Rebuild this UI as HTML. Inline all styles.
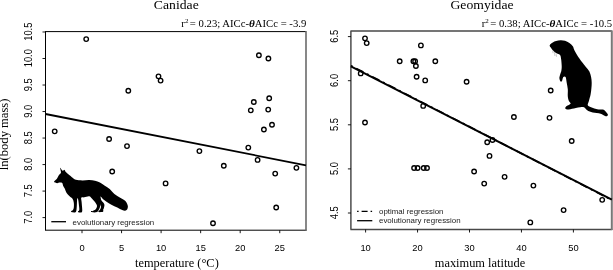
<!DOCTYPE html>
<html><head><meta charset="utf-8"><title>Figure</title>
<style>
html,body{margin:0;padding:0;background:#fff}
svg{display:block}
text{fill:#000}
.tk{font-family:"Liberation Sans",Arial,sans-serif;font-size:9.35px}
.lg{font-family:"Liberation Sans",Arial,sans-serif;font-size:7.9px;fill:#222}
.ti{font-family:"Liberation Serif","Times New Roman",serif;font-size:13.7px}
.an{font-family:"Liberation Serif","Times New Roman",serif;font-size:10.7px}
.ax{font-family:"Liberation Serif","Times New Roman",serif;font-size:12.4px}
</style></head>
<body>
<svg width="613" height="270" viewBox="0 0 613 270">
<rect width="613" height="270" fill="#fff"/>
<path d="M45.5 31.6H306M45.5 31.1V230.2M45.0 230.2H306.5" stroke="#000" stroke-width="1" fill="none"/>
<path d="M306 31.1V230.7" stroke="#6a6a6a" stroke-width="1.6" fill="none"/>
<path d="M82.0 230.2v3" stroke="#000" stroke-width="0.9"/>
<text transform="translate(82.0 251.1) scale(1 1.06)" text-anchor="middle" class="tk">0</text>
<path d="M121.55 230.2v3" stroke="#000" stroke-width="0.9"/>
<text transform="translate(121.55 251.1) scale(1 1.06)" text-anchor="middle" class="tk">5</text>
<path d="M161.1 230.2v3" stroke="#000" stroke-width="0.9"/>
<text transform="translate(161.1 251.1) scale(1 1.06)" text-anchor="middle" class="tk">10</text>
<path d="M200.65 230.2v3" stroke="#000" stroke-width="0.9"/>
<text transform="translate(200.65 251.1) scale(1 1.06)" text-anchor="middle" class="tk">15</text>
<path d="M240.2 230.2v3" stroke="#000" stroke-width="0.9"/>
<text transform="translate(240.2 251.1) scale(1 1.06)" text-anchor="middle" class="tk">20</text>
<path d="M279.75 230.2v3" stroke="#000" stroke-width="0.9"/>
<text transform="translate(279.75 251.1) scale(1 1.06)" text-anchor="middle" class="tk">25</text>
<path d="M45.5 217.6h-3" stroke="#000" stroke-width="0.9"/>
<text transform="translate(32.1 217.29999999999998) rotate(-90) scale(1 1.1)" text-anchor="middle" class="tk">7.0</text>
<path d="M45.5 191.08499999999998h-3" stroke="#000" stroke-width="0.9"/>
<text transform="translate(32.1 190.78499999999997) rotate(-90) scale(1 1.1)" text-anchor="middle" class="tk">7.5</text>
<path d="M45.5 164.57h-3" stroke="#000" stroke-width="0.9"/>
<text transform="translate(32.1 164.26999999999998) rotate(-90) scale(1 1.1)" text-anchor="middle" class="tk">8.0</text>
<path d="M45.5 138.055h-3" stroke="#000" stroke-width="0.9"/>
<text transform="translate(32.1 137.755) rotate(-90) scale(1 1.1)" text-anchor="middle" class="tk">8.5</text>
<path d="M45.5 111.53999999999999h-3" stroke="#000" stroke-width="0.9"/>
<text transform="translate(32.1 111.24) rotate(-90) scale(1 1.1)" text-anchor="middle" class="tk">9.0</text>
<path d="M45.5 85.025h-3" stroke="#000" stroke-width="0.9"/>
<text transform="translate(32.1 84.72500000000001) rotate(-90) scale(1 1.1)" text-anchor="middle" class="tk">9.5</text>
<path d="M45.5 58.50999999999999h-3" stroke="#000" stroke-width="0.9"/>
<text transform="translate(32.1 58.209999999999994) rotate(-90) scale(1 1.1)" text-anchor="middle" class="tk">10.0</text>
<path d="M45.5 31.994999999999976h-3" stroke="#000" stroke-width="0.9"/>
<text transform="translate(32.1 31.694999999999975) rotate(-90) scale(1 1.1)" text-anchor="middle" class="tk">10.5</text>
<circle cx="86.2" cy="39.1" r="2.25" fill="none" stroke="#000" stroke-width="1.35"/>
<circle cx="258.9" cy="55.2" r="2.25" fill="none" stroke="#000" stroke-width="1.35"/>
<circle cx="268.4" cy="58.5" r="2.25" fill="none" stroke="#000" stroke-width="1.35"/>
<circle cx="128.3" cy="90.7" r="2.25" fill="none" stroke="#000" stroke-width="1.35"/>
<circle cx="54.7" cy="131.3" r="2.25" fill="none" stroke="#000" stroke-width="1.35"/>
<circle cx="158.5" cy="76.3" r="2.25" fill="none" stroke="#000" stroke-width="1.35"/>
<circle cx="160.6" cy="80.6" r="2.25" fill="none" stroke="#000" stroke-width="1.35"/>
<circle cx="269.2" cy="98.2" r="2.25" fill="none" stroke="#000" stroke-width="1.35"/>
<circle cx="253.8" cy="102" r="2.25" fill="none" stroke="#000" stroke-width="1.35"/>
<circle cx="250.8" cy="110.3" r="2.25" fill="none" stroke="#000" stroke-width="1.35"/>
<circle cx="268.2" cy="109.6" r="2.25" fill="none" stroke="#000" stroke-width="1.35"/>
<circle cx="272" cy="124.7" r="2.25" fill="none" stroke="#000" stroke-width="1.35"/>
<circle cx="263.9" cy="129.5" r="2.25" fill="none" stroke="#000" stroke-width="1.35"/>
<circle cx="199.4" cy="151.1" r="2.25" fill="none" stroke="#000" stroke-width="1.35"/>
<circle cx="248.3" cy="147.6" r="2.25" fill="none" stroke="#000" stroke-width="1.35"/>
<circle cx="257.6" cy="159.9" r="2.25" fill="none" stroke="#000" stroke-width="1.35"/>
<circle cx="223.8" cy="165.7" r="2.25" fill="none" stroke="#000" stroke-width="1.35"/>
<circle cx="275.2" cy="173.6" r="2.25" fill="none" stroke="#000" stroke-width="1.35"/>
<circle cx="296.4" cy="167.8" r="2.25" fill="none" stroke="#000" stroke-width="1.35"/>
<circle cx="165.6" cy="183.4" r="2.25" fill="none" stroke="#000" stroke-width="1.35"/>
<circle cx="213" cy="223.2" r="2.25" fill="none" stroke="#000" stroke-width="1.35"/>
<circle cx="276.2" cy="207.5" r="2.25" fill="none" stroke="#000" stroke-width="1.35"/>
<circle cx="109.1" cy="139" r="2.25" fill="none" stroke="#000" stroke-width="1.35"/>
<circle cx="127" cy="146.1" r="2.25" fill="none" stroke="#000" stroke-width="1.35"/>
<circle cx="112.2" cy="171.5" r="2.25" fill="none" stroke="#000" stroke-width="1.35"/>
<path d="M45.5 114L306 165.3" stroke="#000" stroke-width="1.8" fill="none"/>
<text transform="translate(176.3 9.4) scale(1 0.93)" text-anchor="middle" class="ti">Canidae</text>
<text x="306.3" y="27.2" text-anchor="end" class="an">r<tspan dy="-4" font-size="7">2</tspan><tspan dy="4" dx="-1.2"> = 0.23; AICc-</tspan><tspan font-weight="bold" font-style="italic" font-size="11.2">θ</tspan>AICc = -3.9</text>
<text transform="translate(176.9 267.4) scale(1 1.04)" text-anchor="middle" class="ax">temperature (°C)</text>
<text transform="translate(8.3 134.4) rotate(-90) scale(1.015 1.04)" text-anchor="middle" class="ax">ln(body mass)</text>
<path d="M51.3 221.7H66" stroke="#000" stroke-width="1.3"/><text x="72.6" y="224.6" class="lg">evolutionary regression</text>
<path d="M54.10 181.40C54.35 180.75 56.12 179.72 56.90 178.70C57.68 177.68 58.12 176.32 58.80 175.30C59.48 174.28 60.78 173.87 61.00 172.60C61.22 171.33 59.82 168.02 60.10 167.70C60.38 167.38 61.97 170.33 62.70 170.70C63.43 171.07 63.93 169.63 64.50 169.90C65.07 170.17 65.25 171.40 66.10 172.30C66.95 173.20 68.37 174.27 69.60 175.30C70.83 176.33 72.45 177.77 73.50 178.50C74.55 179.23 74.43 179.38 75.90 179.70C77.37 180.02 80.08 180.33 82.30 180.40C84.52 180.47 87.08 180.03 89.20 180.10C91.32 180.17 93.22 180.38 95.00 180.80C96.78 181.22 98.27 181.78 99.90 182.60C101.53 183.42 103.17 184.63 104.80 185.70C106.43 186.77 108.10 187.62 109.70 189.00C111.30 190.38 112.65 192.53 114.40 194.00C116.15 195.47 118.42 196.67 120.20 197.80C121.98 198.93 123.95 199.82 125.10 200.80C126.25 201.78 126.63 202.73 127.10 203.70C127.57 204.67 127.90 205.62 127.90 206.60C127.90 207.58 127.57 208.92 127.10 209.60C126.63 210.28 125.92 210.62 125.10 210.70C124.28 210.78 123.50 210.62 122.20 210.10C120.90 209.58 119.10 208.50 117.30 207.60C115.50 206.70 113.20 205.68 111.40 204.70C109.60 203.72 107.93 202.67 106.50 201.70C105.07 200.73 103.80 199.75 102.80 198.90C101.80 198.05 100.85 196.42 100.50 196.60C100.15 196.78 100.70 198.77 100.70 200.00C100.70 201.23 100.60 202.90 100.50 204.00C100.40 205.10 100.32 205.77 100.10 206.60C99.88 207.43 99.72 208.10 99.20 209.00C98.68 209.90 98.10 211.45 97.00 212.00C95.90 212.55 93.42 212.42 92.60 212.30C91.78 212.18 91.62 211.77 92.10 211.30C92.58 210.83 94.68 210.37 95.50 209.50C96.32 208.63 97.00 207.23 97.00 206.10C97.00 204.97 96.32 203.92 95.50 202.70C94.68 201.48 93.15 199.87 92.10 198.80C91.05 197.73 90.50 196.55 89.20 196.30C87.90 196.05 85.62 197.05 84.30 197.30C82.98 197.55 81.75 197.07 81.30 197.80C80.85 198.53 81.47 200.07 81.60 201.70C81.73 203.33 82.03 205.88 82.10 207.60C82.17 209.32 82.53 211.18 82.00 212.00C81.47 212.82 79.58 212.58 78.90 212.50C78.22 212.42 77.85 211.87 77.90 211.50C77.95 211.13 78.98 210.95 79.20 210.30C79.42 209.65 79.33 209.20 79.20 207.60C79.07 206.00 78.65 202.25 78.40 200.70C78.15 199.15 77.92 198.47 77.70 198.30C77.48 198.13 77.27 198.15 77.10 199.70C76.93 201.25 76.92 205.55 76.70 207.60C76.48 209.65 76.58 211.22 75.80 212.00C75.02 212.78 72.80 212.42 72.00 212.30C71.20 212.18 70.85 211.68 71.00 211.30C71.15 210.92 72.43 210.62 72.90 210.00C73.37 209.38 73.65 208.82 73.80 207.60C73.95 206.38 74.02 204.17 73.80 202.70C73.58 201.23 73.20 199.87 72.50 198.80C71.80 197.73 70.58 197.28 69.60 196.30C68.62 195.32 67.42 194.20 66.60 192.90C65.78 191.60 65.27 189.65 64.70 188.50C64.13 187.35 63.62 186.90 63.20 186.00C62.78 185.10 62.77 183.67 62.20 183.10C61.63 182.53 60.62 182.57 59.80 182.60C58.98 182.63 58.03 183.30 57.30 183.30C56.57 183.30 55.93 182.92 55.40 182.60C54.87 182.28 53.85 182.05 54.10 181.40Z" fill="#000"/>
<path d="M99.80 196.50C100.22 196.60 100.75 199.32 101.50 200.60C102.25 201.88 103.90 202.97 104.30 204.20C104.70 205.43 104.08 207.10 103.90 208.00C103.72 208.90 103.35 208.97 103.20 209.60C103.05 210.23 103.78 211.38 103.00 211.80C102.22 212.22 99.18 212.23 98.50 212.10C97.82 211.97 98.58 211.52 98.90 211.00C99.22 210.48 100.05 209.70 100.40 209.00C100.75 208.30 101.03 207.55 101.00 206.80C100.97 206.05 100.53 205.63 100.20 204.50C99.87 203.37 99.07 201.33 99.00 200.00C98.93 198.67 99.38 196.40 99.80 196.50Z" fill="#000"/>
<path d="M350.9 30.9H611.8M350.9 30.4V229.5M350.4 229.5H612.3" stroke="#484848" stroke-width="1.45" fill="none"/>
<path d="M611.8 30.4V230.0" stroke="#787878" stroke-width="2.0" fill="none"/>
<path d="M365.6 229.5v3" stroke="#000" stroke-width="0.9"/>
<text transform="translate(365.6 251.1) scale(1 1.06)" text-anchor="middle" class="tk">10</text>
<path d="M417.55 229.5v3" stroke="#000" stroke-width="0.9"/>
<text transform="translate(417.55 251.1) scale(1 1.06)" text-anchor="middle" class="tk">20</text>
<path d="M469.5 229.5v3" stroke="#000" stroke-width="0.9"/>
<text transform="translate(469.5 251.1) scale(1 1.06)" text-anchor="middle" class="tk">30</text>
<path d="M521.45 229.5v3" stroke="#000" stroke-width="0.9"/>
<text transform="translate(521.45 251.1) scale(1 1.06)" text-anchor="middle" class="tk">40</text>
<path d="M573.4000000000001 229.5v3" stroke="#000" stroke-width="0.9"/>
<text transform="translate(573.4000000000001 251.1) scale(1 1.06)" text-anchor="middle" class="tk">50</text>
<path d="M350.9 213.0h-3" stroke="#000" stroke-width="0.9"/>
<text transform="translate(337.5 212.7) rotate(-90) scale(1 1.1)" text-anchor="middle" class="tk">4.5</text>
<path d="M350.9 168.9h-3" stroke="#000" stroke-width="0.9"/>
<text transform="translate(337.5 168.6) rotate(-90) scale(1 1.1)" text-anchor="middle" class="tk">5.0</text>
<path d="M350.9 124.8h-3" stroke="#000" stroke-width="0.9"/>
<text transform="translate(337.5 124.5) rotate(-90) scale(1 1.1)" text-anchor="middle" class="tk">5.5</text>
<path d="M350.9 80.69999999999999h-3" stroke="#000" stroke-width="0.9"/>
<text transform="translate(337.5 80.39999999999999) rotate(-90) scale(1 1.1)" text-anchor="middle" class="tk">6.0</text>
<path d="M350.9 36.599999999999994h-3" stroke="#000" stroke-width="0.9"/>
<text transform="translate(337.5 36.3) rotate(-90) scale(1 1.1)" text-anchor="middle" class="tk">6.5</text>
<circle cx="365" cy="38.3" r="2.25" fill="none" stroke="#000" stroke-width="1.35"/>
<circle cx="366.7" cy="43.1" r="2.25" fill="none" stroke="#000" stroke-width="1.35"/>
<circle cx="420.9" cy="45.4" r="2.25" fill="none" stroke="#000" stroke-width="1.35"/>
<circle cx="399.7" cy="61.2" r="2.25" fill="none" stroke="#000" stroke-width="1.35"/>
<circle cx="413.4" cy="61.2" r="2.25" fill="none" stroke="#000" stroke-width="1.35"/>
<circle cx="415.1" cy="61.2" r="2.25" fill="none" stroke="#000" stroke-width="1.35"/>
<circle cx="415.9" cy="66" r="2.25" fill="none" stroke="#000" stroke-width="1.35"/>
<circle cx="435.3" cy="61.2" r="2.25" fill="none" stroke="#000" stroke-width="1.35"/>
<circle cx="416.6" cy="76.7" r="2.25" fill="none" stroke="#000" stroke-width="1.35"/>
<circle cx="425.2" cy="80.4" r="2.25" fill="none" stroke="#000" stroke-width="1.35"/>
<circle cx="360.7" cy="73.4" r="2.25" fill="none" stroke="#000" stroke-width="1.35"/>
<circle cx="423.2" cy="105.9" r="2.25" fill="none" stroke="#000" stroke-width="1.35"/>
<circle cx="365" cy="122.5" r="2.25" fill="none" stroke="#000" stroke-width="1.35"/>
<circle cx="414.1" cy="168" r="2.25" fill="none" stroke="#000" stroke-width="1.35"/>
<circle cx="417.6" cy="168" r="2.25" fill="none" stroke="#000" stroke-width="1.35"/>
<circle cx="423.7" cy="168" r="2.25" fill="none" stroke="#000" stroke-width="1.35"/>
<circle cx="427" cy="168" r="2.25" fill="none" stroke="#000" stroke-width="1.35"/>
<circle cx="466.6" cy="81.7" r="2.25" fill="none" stroke="#000" stroke-width="1.35"/>
<circle cx="550.7" cy="90.5" r="2.25" fill="none" stroke="#000" stroke-width="1.35"/>
<circle cx="513.9" cy="117" r="2.25" fill="none" stroke="#000" stroke-width="1.35"/>
<circle cx="549.5" cy="117.8" r="2.25" fill="none" stroke="#000" stroke-width="1.35"/>
<circle cx="571.7" cy="141" r="2.25" fill="none" stroke="#000" stroke-width="1.35"/>
<circle cx="487.2" cy="142.2" r="2.25" fill="none" stroke="#000" stroke-width="1.35"/>
<circle cx="492.5" cy="140" r="2.25" fill="none" stroke="#000" stroke-width="1.35"/>
<circle cx="489.5" cy="155.9" r="2.25" fill="none" stroke="#000" stroke-width="1.35"/>
<circle cx="474.1" cy="171.5" r="2.25" fill="none" stroke="#000" stroke-width="1.35"/>
<circle cx="504.6" cy="176.8" r="2.25" fill="none" stroke="#000" stroke-width="1.35"/>
<circle cx="484.2" cy="183.6" r="2.25" fill="none" stroke="#000" stroke-width="1.35"/>
<circle cx="533.4" cy="185.6" r="2.25" fill="none" stroke="#000" stroke-width="1.35"/>
<circle cx="602.2" cy="199.8" r="2.25" fill="none" stroke="#000" stroke-width="1.35"/>
<circle cx="563.6" cy="210.1" r="2.25" fill="none" stroke="#000" stroke-width="1.35"/>
<circle cx="530.3" cy="222.4" r="2.25" fill="none" stroke="#000" stroke-width="1.35"/>
<path d="M350.9 66.3L611.8 199.6" stroke="#000" stroke-width="2.0" fill="none"/><path d="M350.9 65.6L611.8 200.1" stroke="#000" stroke-width="1.6" stroke-dasharray="2 4 8 4" fill="none"/>
<text transform="translate(482 9.4) scale(1 0.93)" text-anchor="middle" class="ti">Geomyidae</text>
<text x="612.0999999999999" y="27.2" text-anchor="end" class="an">r<tspan dy="-4" font-size="7">2</tspan><tspan dy="4" dx="-1.2"> = 0.38; AICc-</tspan><tspan font-weight="bold" font-style="italic" font-size="11.2">θ</tspan>AICc = -10.5</text>
<text transform="translate(480 267.4) scale(1 1.04)" text-anchor="middle" class="ax">maximum latitude</text>
<path d="M357.1 211.4H372.3" stroke="#000" stroke-width="1.3" stroke-dasharray="1.5 3 6 3"/><text x="379" y="213.8" class="lg">optimal regression</text><path d="M357.1 220.7H372.3" stroke="#000" stroke-width="1.3"/><text x="379" y="223.3" class="lg">evolutionary regression</text>
<path d="M549.70 45.20C549.98 44.27 551.73 43.08 552.80 42.40C553.87 41.72 554.80 41.47 556.10 41.10C557.40 40.73 559.12 40.25 560.60 40.20C562.08 40.15 563.53 40.33 565.00 40.80C566.47 41.27 568.10 42.08 569.40 43.00C570.70 43.92 571.97 45.10 572.80 46.30C573.63 47.50 573.48 48.43 574.40 50.20C575.32 51.97 576.90 54.77 578.30 56.90C579.70 59.03 581.50 61.28 582.80 63.00C584.10 64.72 585.00 65.77 586.10 67.20C587.20 68.63 588.57 69.95 589.40 71.60C590.23 73.25 590.72 75.25 591.10 77.10C591.48 78.95 591.65 80.85 591.70 82.70C591.75 84.55 591.58 86.23 591.40 88.20C591.22 90.17 591.02 92.38 590.60 94.50C590.18 96.62 589.37 99.10 588.90 100.90C588.43 102.70 587.33 104.18 587.80 105.30C588.27 106.42 590.13 106.95 591.70 107.60C593.27 108.25 595.35 108.87 597.20 109.20C599.05 109.53 601.40 109.23 602.80 109.60C604.20 109.97 604.77 110.63 605.60 111.40C606.43 112.17 607.53 113.45 607.80 114.20C608.07 114.95 607.67 115.62 607.20 115.90C606.73 116.18 606.10 116.27 605.00 115.90C603.90 115.53 602.63 114.25 600.60 113.70C598.57 113.15 595.03 113.17 592.80 112.60C590.57 112.03 588.60 111.13 587.20 110.30C585.80 109.47 585.32 108.15 584.40 107.60C583.48 107.05 583.45 106.87 581.70 107.00C579.95 107.13 576.32 107.97 573.90 108.40C571.48 108.83 568.65 109.65 567.20 109.60C565.75 109.55 565.28 108.72 565.20 108.10C565.12 107.48 565.80 106.63 566.70 105.90C567.60 105.17 570.23 104.53 570.60 103.70C570.97 102.87 569.37 102.12 568.90 100.90C568.43 99.68 567.98 98.33 567.80 96.40C567.62 94.47 567.98 91.58 567.80 89.30C567.62 87.02 567.07 84.73 566.70 82.70C566.33 80.67 566.17 78.03 565.60 77.10C565.03 76.17 563.87 76.55 563.30 77.10C562.73 77.65 562.65 79.65 562.20 80.40C561.75 81.15 561.07 81.97 560.60 81.60C560.13 81.23 559.50 79.32 559.40 78.20C559.30 77.08 559.67 76.20 560.00 74.90C560.33 73.60 561.12 71.88 561.40 70.40C561.68 68.92 561.75 67.90 561.70 66.00C561.65 64.10 561.38 60.83 561.10 59.00C560.82 57.17 560.83 56.00 560.00 55.00C559.17 54.00 557.22 53.70 556.10 53.00C554.98 52.30 554.13 51.63 553.30 50.80C552.47 49.97 551.70 48.93 551.10 48.00C550.50 47.07 549.42 46.13 549.70 45.20Z" fill="#000"/>
<path d="M552.8 50.6L553 53.2M554.4 52.2L554.9 56M556.1 53.4L556.5 56.8" stroke="#8a8a8a" stroke-width="0.45" fill="none"/>
</svg>
</body></html>
